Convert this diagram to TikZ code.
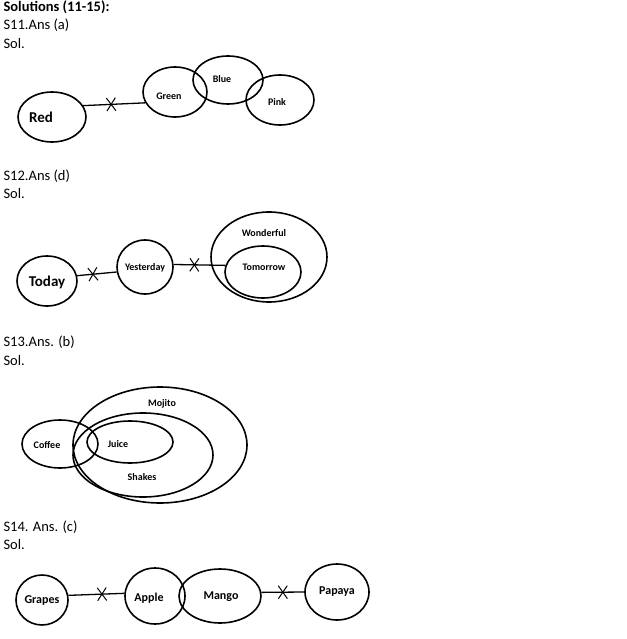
\documentclass[tikz,border=0pt]{standalone}
\usepackage{fontspec}
\setmainfont{Carlito}
\usetikzlibrary{shapes.geometric,shapes.misc}
\tikzset{
  set/.style={draw, ellipse, line width=1.6pt, inner sep=0pt},
  lbl/.style={font=\bfseries\fontsize{10}{11}\selectfont},
  big/.style={font=\bfseries\fontsize{15}{16}\selectfont},
  head/.style={anchor=west, font=\fontsize{14.5}{16}\selectfont},
  link/.style={line width=1.3pt},
  xmark/.style={draw, cross out, line width=1pt, minimum width=8pt, minimum height=12pt, inner sep=0pt, sloped}
}
\begin{document}
\begin{tikzpicture}[x=1pt,y=-1pt]
        \useasboundingbox (0,0) rectangle (626,639);
        \node[head] (h0) at (0,7) {\textbf{Solutions (11-15):}};
        % S11
        \node[head] (h11) at (0,25) {S11.Ans (a)};
        \node[head] (s11) at (0,44) {Sol.};
        \node[set, minimum width=68pt, minimum height=50pt] (red) at (52,117) {};
        \node[set, minimum width=64pt, minimum height=50pt] (green) at (175,92) {};
        \node[set, minimum width=70pt, minimum height=48pt] (blue) at (228,80) {};
        \node[set, minimum width=68pt, minimum height=50pt] (pink) at (280,100) {};
        \node[big] at (41,117) {Red};
        \node[lbl] at (169,96) {Green};
        \node[lbl] at (222,79) {Blue};
        \node[lbl] at (277,102) {Pink};
        \draw[link] (red.20) -- node[xmark, pos=0.45] {} (green.200);
        % S12
        \node[head] (h12) at (0,176) {S12.Ans (d)};
        \node[head] (s12) at (0,194) {Sol.};
        \node[set, minimum width=60pt, minimum height=50pt] (today) at (47,281) {};
        \node[set, minimum width=56pt, minimum height=54pt] (yesterday) at (145,267) {};
        \node[set, minimum width=116pt, minimum height=90pt] (wonderful) at (269,257) {};
        \node[set, minimum width=76pt, minimum height=52pt] (tomorrow) at (263,272) {};
        \node[big] at (47,282) {Today};
        \node[lbl] at (145,268) {Yesterday};
        \node[lbl] at (264,233) {Wonderful};
        \node[lbl] at (264,267) {Tomorrow};
        \draw[link] (today.10) -- node[xmark, pos=0.4] {} (yesterday.190);
        \draw[link] (yesterday.5) -- node[xmark, pos=0.4] {} (tomorrow.170);
        % S13
        \node[head] (h13) at (0,342) {S13.Ans. (b)};
        \node[head] (s13) at (0,361) {Sol.};
        \node[set, minimum width=76pt, minimum height=48pt] (coffee) at (60,444) {};
        \node[set, minimum width=174pt, minimum height=116pt] (mojito) at (160,445) {};
        \node[set, minimum width=140pt, minimum height=84pt] (shakes) at (143,455) {};
        \node[set, minimum width=86pt, minimum height=42pt] (juice) at (130,442) {};
        \node[lbl] at (162,404) {Mojito};
        \node[lbl] at (47,445) {Coffee};
        \node[lbl] at (118,444) {Juice};
        \node[lbl] at (142,477) {Shakes};
        % S14
        \node[head] (h14) at (0,527) {S14. Ans. (c)};
        \node[head] (s14) at (0,545) {Sol.};
        \node[set, minimum width=52pt, minimum height=50pt] (grapes) at (42,600) {};
        \node[set, minimum width=60pt, minimum height=56pt] (apple) at (155,596) {};
        \node[set, minimum width=82pt, minimum height=54pt] (mango) at (220,596) {};
        \node[set, minimum width=64pt, minimum height=56pt] (papaya) at (337,592) {};
        \node[lbl, font=\bfseries\fontsize{12}{13}\selectfont] at (42,601) {Grapes};
        \node[lbl, font=\bfseries\fontsize{12}{13}\selectfont] at (149,598) {Apple};
        \node[lbl, font=\bfseries\fontsize{12}{13}\selectfont] at (221,597) {Mango};
        \node[lbl, font=\bfseries\fontsize{12}{13}\selectfont] at (337,592) {Papaya};
        \draw[link] (grapes.10) -- node[xmark, pos=0.6] {} (apple.175);
        \draw[link] (mango.5) -- node[xmark, pos=0.5] {} (papaya.180);
\end{tikzpicture}
\end{document}
